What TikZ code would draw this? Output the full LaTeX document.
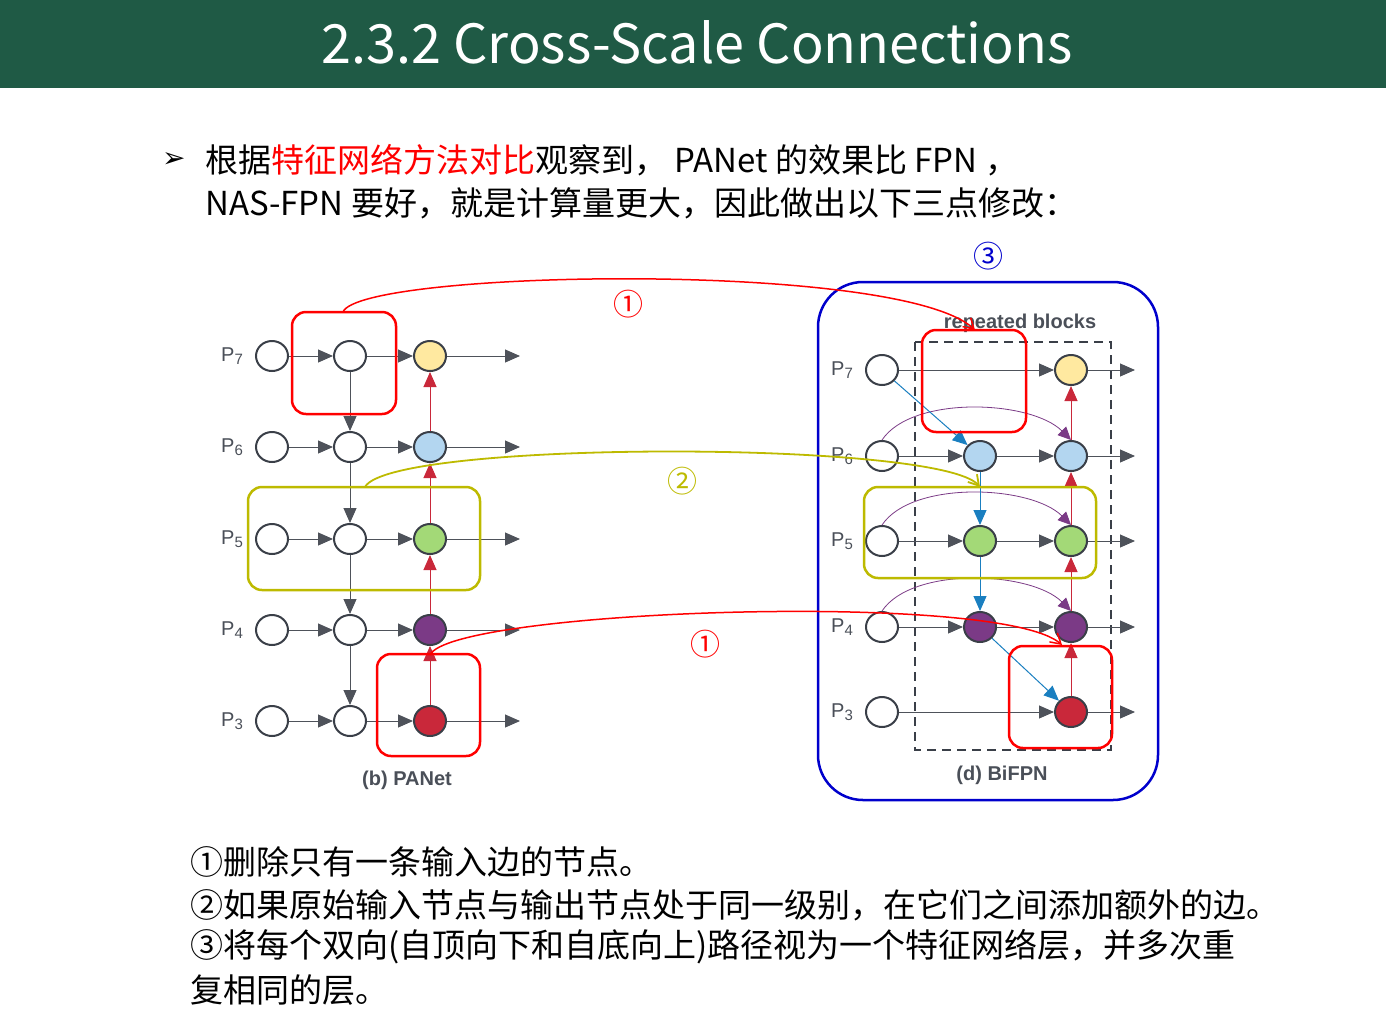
\documentclass[tikz,border=0pt]{standalone}
\usepackage{fontspec}
\setmainfont{Noto Sans CJK SC}
\newfontfamily\lat{Liberation Sans}
\newfontfamily\djvfont{DejaVu Sans}
\usetikzlibrary{arrows.meta,shapes.geometric}
\definecolor{tg}{HTML}{1F5A45}
\definecolor{nd}{HTML}{3A3F48}
\definecolor{yel}{HTML}{FFE9A0}
\definecolor{lbl}{HTML}{B3D6F0}
\definecolor{grn}{HTML}{A3D977}
\definecolor{pur}{HTML}{7B3A86}
\definecolor{rd}{HTML}{C9283A}
\definecolor{olv}{HTML}{BDBA00}
\definecolor{blu}{HTML}{1A7FC0}
\definecolor{gtx}{HTML}{4A4F58}
\begin{document}
\begin{tikzpicture}[x=1pt,y=-1pt,
 nd/.style={draw=nd,line width=2pt,ellipse,minimum width=32pt,minimum height=30pt,inner sep=0pt},
 ed/.style={draw=nd!90,line width=1pt,-{Triangle[length=15pt,width=13pt]}},
 up/.style={draw=rd,line width=1pt,-{Triangle[length=15pt,width=13pt]}},
 bl/.style={draw=blu,line width=1pt,-{Triangle[length=15pt,width=13pt]}},
 pu/.style={draw=pur,line width=0.8pt,-{Triangle[length=13pt,width=12pt]}},
 pl/.style={text=gtx,font=\lat\fontsize{20}{22}\selectfont},
 captxt/.style={text=gtx,font=\lat\bfseries\fontsize{20}{22}\selectfont},
 rbox/.style={draw=red,line width=2.5pt,rounded corners=14pt},
 ybox/.style={draw=olv,line width=2.5pt,rounded corners=14pt},
 txt/.style={anchor=west,font=\fontsize{33}{38}\selectfont,inner sep=0pt}]
\useasboundingbox (0,0) rectangle (1386,1012);
\fill[tg] (0,0) rectangle (1386,88);
\node[text=white,font=\fontsize{54}{60}\selectfont] (title) at (697,42) {2.3.2 Cross-Scale Connections};
\node[font=\djvfont\fontsize{28}{30}\selectfont,anchor=west,inner sep=0pt] (bul) at (162,160) {➢};
\node[txt] (l1) at (205,160) {根据\textcolor{red}{特征网络方法对比}观察到， PANet 的效果比 FPN ，};
\node[txt] (l2) at (205,203) {NAS-FPN 要好，就是计算量更大，因此做出以下三点修改：};
% PANet
\foreach \r/\y/\n in {7/356/7,6/447/6,5/539/5,4/630/4,3/721/3}{
 \node[pl] (pl\r) at (232,\y) {P\raisebox{-0.3ex}{\fontsize{15}{16}\selectfont\n}};
 \node[nd] (a\r) at (272,\y) {};
 \node[nd] (b\r) at (350,\y) {};
 \coordinate (ao\r) at (520,\y);
}
\node[nd,fill=yel] (c7) at (430,356) {};
\node[nd,fill=lbl] (c6) at (430,447) {};
\node[nd,fill=grn] (c5) at (430,539) {};
\node[nd,fill=pur] (c4) at (430,630) {};
\node[nd,fill=rd] (c3) at (430,721) {};
\foreach \r in {7,6,5,4,3}{
 \draw[ed] (a\r) -- (b\r); \draw[ed] (b\r) -- (c\r); \draw[ed] (c\r) -- (ao\r);}
\draw[ed] (b7)--(b6); \draw[ed] (b6)--(b5); \draw[ed] (b5)--(b4); \draw[ed] (b4)--(b3);
\draw[up] (c3)--(c4); \draw[up] (c4)--(c5); \draw[up] (c5)--(c6); \draw[up] (c6)--(c7);
\node[captxt] (capb) at (407,780) {(b) PANet};
% BiFPN
\draw[blue!80!black,line width=2.5pt,rounded corners=45pt] (818,282) rectangle (1158,800);
\draw[nd,line width=1.8pt,dash pattern=on 9pt off 6pt] (915,342) rectangle (1111,750);
\node[captxt] (rep) at (1020,323) {repeated blocks};
\node[captxt] (capd) at (1002,775) {(d) BiFPN};
\foreach \r/\y/\n in {7/370/7,6/456/6,5/541/5,4/627/4,3/712/3}{
 \node[pl] (q\r) at (842,\y) {P\raisebox{-0.3ex}{\fontsize{15}{16}\selectfont\n}};
 \node[nd] (d\r) at (882,\y) {};
 \coordinate (fo\r) at (1135,\y);
}
\node[nd,fill=lbl] (e6) at (980,456) {};
\node[nd,fill=grn] (e5) at (980,541) {};
\node[nd,fill=pur] (e4) at (980,627) {};
\node[nd,fill=yel] (f7) at (1071,370) {};
\node[nd,fill=lbl] (f6) at (1071,456) {};
\node[nd,fill=grn] (f5) at (1071,541) {};
\node[nd,fill=pur] (f4) at (1071,627) {};
\node[nd,fill=rd] (f3) at (1071,712) {};
\draw[ed] (d7)--(f7); \draw[ed] (d3)--(f3);
\foreach \r in {6,5,4}{\draw[ed] (d\r)--(e\r); \draw[ed] (e\r)--(f\r);
 \draw[pu] (d\r.north) .. controls +(30,-45) and +(-40,-40) .. (f\r.north);}
\foreach \r in {7,6,5,4,3}{\draw[ed] (f\r)--(fo\r);}
\draw[bl] (d7)--(e6); \draw[bl] (e6)--(e5); \draw[bl] (e5)--(e4); \draw[bl] (e4)--(f3);
\draw[up] (f3)--(f4); \draw[up] (f4)--(f5); \draw[up] (f5)--(f6); \draw[up] (f6)--(f7);
\node[text=blue!80!black,font=\fontsize{30}{32}\selectfont] (n3) at (988,256) {③};
% highlight boxes
\draw[rbox] (292,312) rectangle (396,414);
\draw[ybox] (248,487) rectangle (480,590);
\draw[rbox] (377,654) rectangle (480,756);
\draw[rbox] (922,330) rectangle (1026,432);
\draw[ybox] (864,487) rectangle (1096,578);
\draw[rbox] (1009,646) rectangle (1112,748);
\coordinate (s1) at (343,312); \coordinate (t1) at (975,330);
\coordinate (s2) at (365,487); \coordinate (t2) at (980,487);
\coordinate (s3) at (430,655); \coordinate (t3) at (1062,645);
\draw[red,line width=1.5pt,-{Straight Barb[length=10pt,width=12pt]}] (s1) .. controls (360,270) and (900,260) .. (t1);
\draw[olv,line width=1.8pt,-{Straight Barb[length=10pt,width=12pt]}] (s2) .. controls (390,440) and (940,440) .. (t2);
\draw[red,line width=1.5pt,-{Straight Barb[length=10pt,width=12pt]}] (s3) .. controls (450,610) and (1000,590) .. (t3);
\node[text=red,font=\fontsize{30}{32}\selectfont] (n1a) at (628,304) {①};
\node[text=olv,font=\fontsize{30}{32}\selectfont] (n2) at (682,481) {②};
\node[text=red,font=\fontsize{30}{32}\selectfont] (n1b) at (705,644) {①};
% bottom
\node[txt] (b1) at (190,862) {①删除只有一条输入边的节点。};
\node[txt] (b2) at (190,905) {②如果原始输入节点与输出节点处于同一级别，在它们之间添加额外的边。};
\node[txt] (b3) at (190,947) {③将每个双向(自顶向下和自底向上)路径视为一个特征网络层，并多次重};
\node[txt] (b4) at (190,990) {复相同的层。};
\end{tikzpicture}
\end{document}
